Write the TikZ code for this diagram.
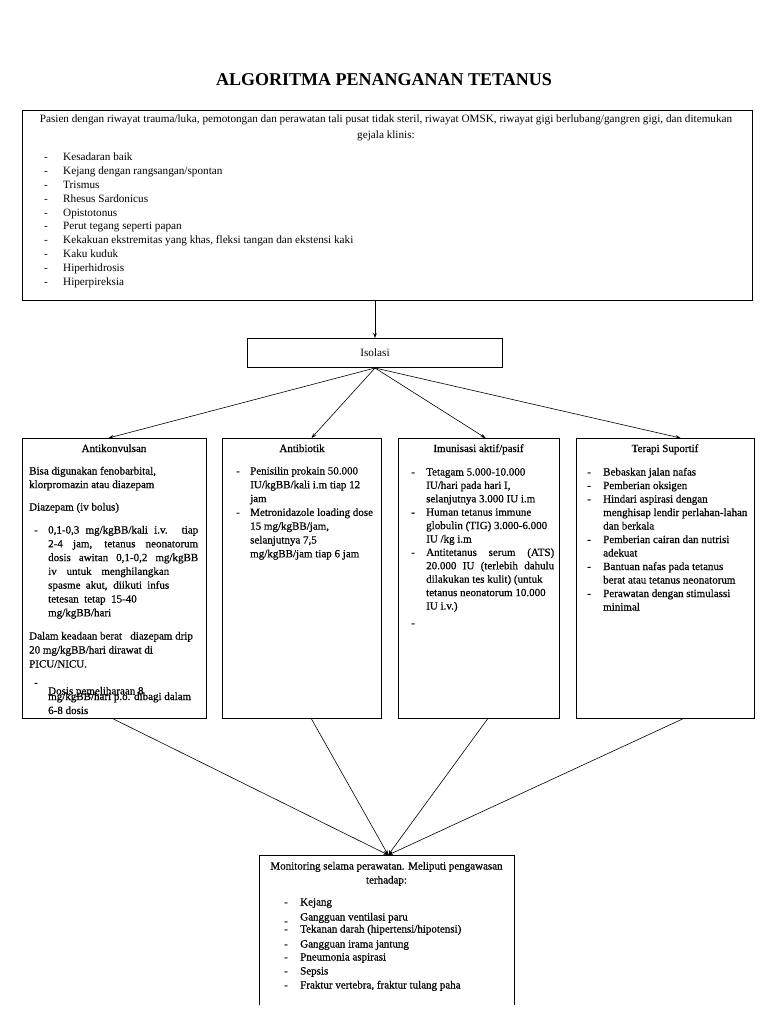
\documentclass[tikz,border=0pt]{standalone}
\usepackage{fontspec}
\setmainfont{Liberation Serif}
\newfontfamily\darkserif[RawFeature={embolden=0.5}]{Liberation Serif}
\usetikzlibrary{arrows.meta,calc}
\newcommand\mydash[1]{\makebox[#1][l]{-}}
\newcommand\fsz[1]{\darkserif\fontsize{11}{#1}\selectfont}
\newcommand\tsz[1]{\fontsize{11.2}{#1}\selectfont}
\begin{document}
\begin{tikzpicture}[x=1pt,y=-1pt,
  box/.style={draw,line width=1pt,inner sep=0pt,anchor=north west},
  txt/.style={inner sep=0pt,anchor=base west,font=\fsz{13.6}},
  ctxt/.style={inner sep=0pt,anchor=base,font=\fsz{13.6}},
  arr/.style={-{Stealth[length=5pt,width=3.6pt]},line width=0.6pt}]
\useasboundingbox (0,0) rectangle (768,1024);
\fill[white] (0,0) rectangle (768,1024);

% title
\node[inner sep=0pt,anchor=base,font=\fontsize{18}{20}\selectfont\bfseries] (title) at (384,86) {ALGORITMA PENANGANAN TETANUS};

% top box
\node[box,minimum width=730pt,minimum height=190pt] (top) at (22,110) {};
\node[ctxt,font=\tsz{13.6}] (t1) at (386,122.5) {Pasien dengan riwayat trauma/luka, pemotongan dan perawatan tali pusat tidak steril, riwayat OMSK, riwayat gigi berlubang/gangren gigi, dan ditemukan};
\node[ctxt,font=\tsz{13.6}] (t2) at (386,138.5) {gejala klinis:};
\node[txt,font=\tsz{13.9}] (tl) at (44,160.5) {\begin{tabular}[t]{@{}l@{}l@{}}
\mydash{19pt}&Kesadaran baik\\
\mydash{19pt}&Kejang dengan rangsangan/spontan\\
\mydash{19pt}&Trismus\\
\mydash{19pt}&Rhesus Sardonicus\\
\mydash{19pt}&Opistotonus\\
\mydash{19pt}&Perut tegang seperti papan\\
\mydash{19pt}&Kekakuan ekstremitas yang khas, fleksi tangan dan ekstensi kaki\\
\mydash{19pt}&Kaku kuduk\\
\mydash{19pt}&Hiperhidrosis\\
\mydash{19pt}&Hiperpireksia
\end{tabular}};

% isolasi
\node[box,minimum width=255pt,minimum height=29pt,font=\tsz{13.6}] (iso) at (247,338) {Isolasi};

% column boxes
\node[box,minimum width=184pt,minimum height=280pt] (ak) at (22,438) {};
\node[box,minimum width=159pt,minimum height=280pt] (ab) at (222,438) {};
\node[box,minimum width=161pt,minimum height=280pt] (im) at (398,438) {};
\node[box,minimum width=178pt,minimum height=280pt] (tp) at (576,438) {};

% Antikonvulsan
\node[ctxt] (akT) at (114,452) {Antikonvulsan};
\node[txt] (ak1) at (29,474.5) {\begin{tabular}[t]{@{}l@{}}Bisa digunakan fenobarbital,\\klorpromazin atau diazepam\end{tabular}};
\node[txt] (ak2) at (29,510.5) {Diazepam (iv bolus)};
\node[txt,font=\fsz{13.8}] (ak3) at (34,533.5) {\begin{tabular}[t]{@{}l@{}l@{}}
\mydash{14pt}&\makebox[150pt][s]{0,1-0,3 mg/kgBB/kali i.v. tiap}\\
&\makebox[150pt][s]{2-4 jam, tetanus neonatorum}\\
&\makebox[150pt][s]{dosis awitan 0,1-0,2 mg/kgBB}\\
&\makebox[121pt][s]{iv untuk menghilangkan}\\
&\makebox[121pt][s]{spasme akut, diikuti infus}\\
&tetesan\ \ tetap\ \ 15-40\\
&mg/kgBB/hari
\end{tabular}};
\node[txt,font=\fsz{14}] (ak4) at (29,639.5) {\begin{tabular}[t]{@{}l@{}}Dalam keadaan berat\ \ \ diazepam drip\\20 mg/kgBB/hari dirawat di\\PICU/NICU.\end{tabular}};
\node[txt] (ak5) at (34,686) {-};
\node[txt] (ak6) at (48,694.5) {Dosis pemeliharaan 8};
\node[txt] (ak7) at (48,700) {mg/kgBB/hari p.o. dibagi dalam};
\node[txt] (ak8) at (48,714) {6-8 dosis};

% Antibiotik
\node[ctxt] (abT) at (302,452) {Antibiotik};
\node[txt,font=\fsz{13.8}] (ab1) at (236,474.5) {\begin{tabular}[t]{@{}l@{}l@{}}
\mydash{14pt}&Penisilin prokain 50.000\\
&IU/kgBB/kali i.m tiap 12\\
&jam\\
\mydash{14pt}&Metronidazole loading dose\\
&15 mg/kgBB/jam,\\
&selanjutnya 7,5\\
&mg/kgBB/jam tiap 6 jam
\end{tabular}};

% Imunisasi
\node[ctxt] (imT) at (478.5,452) {Imunisasi aktif/pasif};
\node[txt,font=\fsz{13.4}] (im1) at (411,475.5) {\begin{tabular}[t]{@{}l@{}l@{}}
\mydash{15pt}&Tetagam 5.000-10.000\\
&IU/hari pada hari I,\\
&selanjutnya 3.000 IU i.m\\
\mydash{15pt}&Human tetanus immune\\
&globulin (TIG) 3.000-6.000\\
&IU /kg i.m\\
\mydash{15pt}&\makebox[128pt][s]{Antitetanus serum (ATS)}\\
&\makebox[128pt][s]{20.000 IU (terlebih dahulu}\\
&dilakukan tes kulit) (untuk\\
&tetanus neonatorum 10.000\\
&IU i.v.)
\end{tabular}};
\node[txt] (im2) at (411,626.5) {-};

% Terapi Suportif
\node[ctxt] (tpT) at (665,452) {Terapi Suportif};
\node[txt,font=\fsz{13.5}] (tp1) at (587,475.5) {\begin{tabular}[t]{@{}l@{}l@{}}
\mydash{16pt}&Bebaskan jalan nafas\\
\mydash{16pt}&Pemberian oksigen\\
\mydash{16pt}&Hindari aspirasi dengan\\
&menghisap lendir perlahan-lahan\\
&dan berkala\\
\mydash{16pt}&Pemberian cairan dan nutrisi\\
&adekuat\\
\mydash{16pt}&Bantuan nafas pada tetanus\\
&berat atau tetanus neonatorum\\
\mydash{16pt}&Perawatan dengan stimulassi\\
&minimal
\end{tabular}};

% Monitoring box (open at the bottom)
\node[inner sep=0pt,anchor=north west,minimum width=255pt,minimum height=150pt] (mon) at (259,855) {};
\draw[line width=1pt] (mon.south west) -- (mon.north west) -- (mon.north east) -- (mon.south east);
\node[ctxt] (m1) at (386.5,869.5) {Monitoring selama perawatan. Meliputi pengawasan};
\node[ctxt] (m2) at (386.5,883.5) {terhadap:};
\node[txt] (md1) at (284,905.5) {-};
\node[txt] (mi1) at (300,905.5) {Kejang};
\node[txt] (md2) at (284,924.5) {-};
\node[txt] (mi2) at (300,920.5) {Gangguan ventilasi paru};
\node[txt] (md3) at (284,932.5) {-};
\node[txt] (mi3) at (300,932.5) {Tekanan darah (hipertensi/hipotensi)};
\node[txt] (md4) at (284,947.5) {-};
\node[txt] (mi4) at (300,947.5) {Gangguan irama jantung};
\node[txt] (md5) at (284,960.5) {-};
\node[txt] (mi5) at (300,960.5) {Pneumonia aspirasi};
\node[txt] (md6) at (284,974.5) {-};
\node[txt] (mi6) at (300,974.5) {Sepsis};
\node[txt] (md7) at (284,988.5) {-};
\node[txt] (mi7) at (300,988.5) {Fraktur vertebra, fraktur tulang paha};

% connectors
\draw[arr] (top.south -| iso.north) -- (iso.north);
\draw[arr] (iso.south) -- ([xshift=-6pt]ak.north);
\draw[arr] (iso.south) -- ([xshift=9.5pt]ab.north);
\draw[arr] (iso.south) -- ([xshift=6.5pt]im.north);
\draw[arr] (iso.south) -- ([xshift=15pt]tp.north);
\draw[arr] ([xshift=-1pt]ak.south) -- ([xshift=1.5pt]mon.north);
\draw[arr] ([xshift=9.5pt]ab.south) -- ([xshift=1.5pt]mon.north);
\draw[arr] ([xshift=8.5pt]im.south) -- ([xshift=1.5pt]mon.north);
\draw[arr] ([xshift=17pt]tp.south) -- ([xshift=1.5pt]mon.north);
\end{tikzpicture}
\end{document}
